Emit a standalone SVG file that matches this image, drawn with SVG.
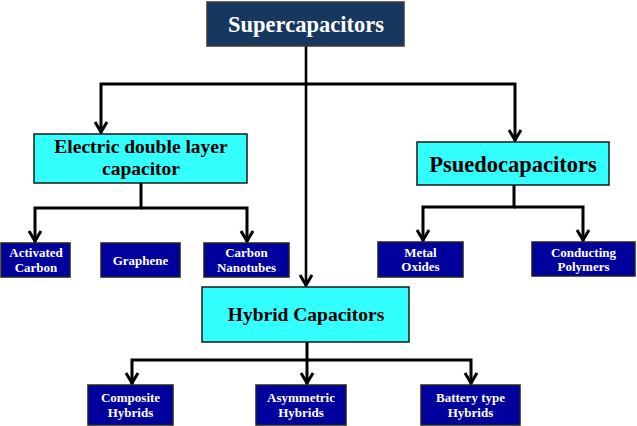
<svg xmlns="http://www.w3.org/2000/svg" width="637" height="426" viewBox="0 0 637 426">
<style>
.top{fill:#17375E;stroke:#3a3a3a;stroke-width:1.5}
.mid{fill:#33FFFF;stroke:#1a1a1a;stroke-width:1.5}
.leaf{fill:#00009C;stroke:#222;stroke-width:1.5}
.tw{font-family:"Liberation Serif","Times New Roman",serif;font-weight:bold;fill:#fff;text-anchor:middle}
.tb{font-family:"Liberation Serif","Times New Roman",serif;font-weight:bold;fill:#000;text-anchor:middle}
.sm{font-size:13px}
.conn path{fill:none;stroke:#000;stroke-width:3}
</style>
<defs>
<marker id="arr" markerUnits="userSpaceOnUse" markerWidth="20" markerHeight="20" viewBox="-14 -10 20 20" refX="1" refY="0" orient="auto">
<path d="M-10,-6 L0,0 L-10,6" fill="none" stroke="#000" stroke-width="3"/>
</marker>
</defs>
<rect width="637" height="426" fill="#fff"/>
<g class="conn" id="connectors">
<path d="M306,46 V286" marker-end="url(#arr)" style="stroke-width:2.6"/>
<path d="M306,84 H101 V133" marker-end="url(#arr)"/>
<path d="M306,84 H515 V141" marker-end="url(#arr)"/>
<path d="M141,183 V208 H35 V242" marker-end="url(#arr)"/>
<path d="M141,208 H247 V242" marker-end="url(#arr)"/>
<path d="M514,185 V207 H423 V241" marker-end="url(#arr)"/>
<path d="M514,207 H583 V241" marker-end="url(#arr)"/>
<path d="M307,342 V360 H132 V384" marker-end="url(#arr)"/>
<path d="M307,360 H471 V384" marker-end="url(#arr)"/>
<path d="M307,360 V384" marker-end="url(#arr)"/>
</g>
<g id="supercapacitors"><rect class="top" x="207" y="2" width="197" height="44"/><text class="tw" x="306" y="32" font-size="22.5">Supercapacitors</text></g>
<g id="edlc"><rect class="mid" x="34" y="134" width="213" height="49"/><text class="tb" x="141" y="153" font-size="19.5">Electric double layer</text><text class="tb" x="141" y="175" font-size="19.5">capacitor</text></g>
<g id="pseudo"><rect class="mid" x="417" y="142" width="192" height="43"/><text class="tb" x="513" y="172" font-size="22.5">Psuedocapacitors</text></g>
<g id="hybrid"><rect class="mid" x="202" y="287" width="207" height="55"/><text class="tb" x="306" y="321" font-size="19.5">Hybrid Capacitors</text></g>
<g id="activated"><rect class="leaf" x="1" y="243" width="69" height="34"/><text class="tw sm" x="36" y="257">Activated</text><text class="tw sm" x="36" y="272">Carbon</text></g>
<g id="graphene"><rect class="leaf" x="101" y="243" width="79" height="34"/><text class="tw sm" x="140.5" y="265">Graphene</text></g>
<g id="cnt"><rect class="leaf" x="204" y="243" width="85" height="34"/><text class="tw sm" x="246.5" y="257">Carbon</text><text class="tw sm" x="246.5" y="272">Nanotubes</text></g>
<g id="metal"><rect class="leaf" x="378" y="242" width="85" height="35"/><text class="tw sm" x="420.5" y="257">Metal</text><text class="tw sm" x="420.5" y="271">Oxides</text></g>
<g id="polymers"><rect class="leaf" x="532" y="242" width="103" height="34"/><text class="tw sm" x="583.5" y="257">Conducting</text><text class="tw sm" x="583.5" y="271">Polymers</text></g>
<g id="composite"><rect class="leaf" x="88" y="385" width="85" height="40"/><text class="tw sm" x="130.5" y="402">Composite</text><text class="tw sm" x="130.5" y="417">Hybrids</text></g>
<g id="asymmetric"><rect class="leaf" x="256" y="385" width="90" height="40"/><text class="tw sm" x="301" y="402">Asymmetric</text><text class="tw sm" x="301" y="417">Hybrids</text></g>
<g id="battery"><rect class="leaf" x="421" y="385" width="99" height="40"/><text class="tw sm" x="470.5" y="402">Battery type</text><text class="tw sm" x="470.5" y="417">Hybrids</text></g>
</svg>
